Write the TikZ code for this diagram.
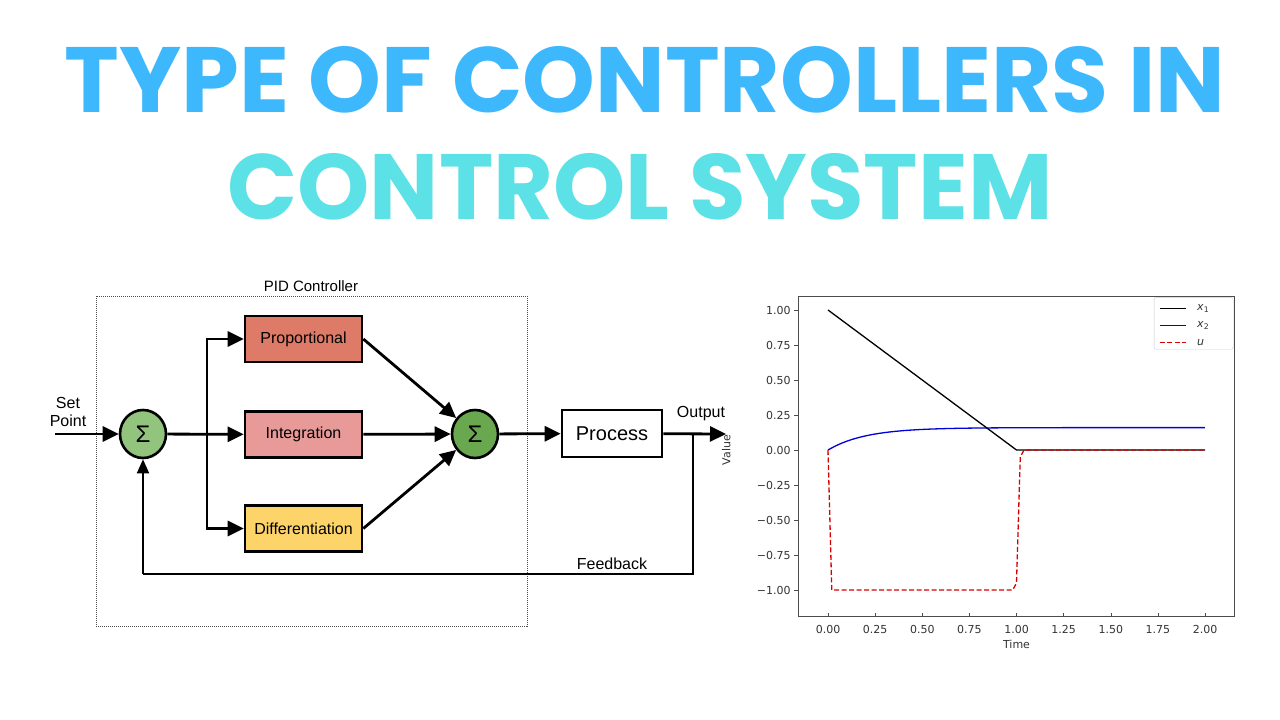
\documentclass[tikz,border=0pt]{standalone}
\usepackage{fontspec}
\setmainfont{Liberation Sans}
\newfontfamily\titlefont{Poppins}
\newfontfamily\plotfont{DejaVu Sans}
\usetikzlibrary{arrows.meta,shapes.geometric}
\definecolor{tA}{HTML}{3DB8FD}
\definecolor{tB}{HTML}{5CE1E6}
\definecolor{propc}{HTML}{DD7B68}
\definecolor{intc}{HTML}{E89A98}
\definecolor{difc}{HTML}{FCD469}
\definecolor{s1c}{HTML}{93C47D}
\definecolor{s2c}{HTML}{6AA84F}
\tikzset{
 blk/.style={draw, line width=2.6pt, minimum width=117pt, minimum height=46pt, inner sep=0pt, font=\fontsize{16}{18}\selectfont},
 sumn/.style={draw, line width=2.6pt, ellipse, minimum width=46pt, minimum height=48pt, inner sep=0pt, font=\fontsize{24}{26}\selectfont},
 arr/.style={line width=2.8pt, -{Triangle[length=16pt,width=15pt]}},
 ln/.style={line width=2.6pt},
 lbl/.style={font=\fontsize{16}{18}\selectfont, inner sep=0pt},
 tick/.style={font=\plotfont\fontsize{11}{12}\selectfont, text=black!80},
}
\begin{document}
\begin{tikzpicture}[x=1pt,y=-1pt]
\useasboundingbox (0,0) rectangle (1280,720);
\fill[white] (0,0) rectangle (1280,720);
% titles
\node[text=tA, font=\titlefont\bfseries] (t1) at (645,80) {\resizebox{1160pt}{66pt}{TYPE OF CONTROLLERS IN}};
\node[text=tB, font=\titlefont\bfseries] (t2) at (640,187) {\resizebox{825pt}{66pt}{CONTROL SYSTEM}};
% diagram
\draw[densely dotted, black!70, line width=1pt] (96,296) rectangle (527,626);
\node[lbl, font=\fontsize{15}{17}\selectfont] (pid) at (311,286) {PID Controller};
\node[sumn, fill=s1c] (s1) at (143,434) {Σ};
\node[sumn, fill=s2c] (s2) at (475,434) {Σ};
\node[blk, fill=propc] (p) at (303.5,339) {Proportional};
\node[blk, fill=intc] (i) at (303.5,434.5) {Integration};
\node[blk, fill=difc] (d) at (303.5,528.5) {Differentiation};
\node[blk, fill=white, minimum width=100pt, minimum height=47pt, font=\fontsize{20}{22}\selectfont] (pr) at (612,433.5) {Process};
\node[lbl, align=center] (sp) at (68,412) {Set\\Point};
\node[lbl] (out) at (701,414) {Output};
\node[lbl] (fb) at (612,564) {Feedback};
\coordinate (in) at (55,434);
\coordinate (sp1) at (207,434);
\coordinate (o1) at (693,434);
\coordinate (o2) at (726,434);
\coordinate (f1) at (693,574);
\coordinate (f2) at (143,574);
\draw[arr] (in) -- (s1);
\draw[arr] (s1) -- (i);
\draw[arr] (sp1) |- (p.west);
\draw[arr] (sp1) |- (d.west);
\draw[arr] (p.east) -- (s2);
\draw[arr] (i) -- (s2);
\draw[arr] (d.east) -- (s2);
\draw[arr] (s2) -- (pr);
\draw[arr] (pr) -- (o2);
\draw[line width=1.8pt] (o1) -- (f1) -- (f2);
\draw[line width=1.8pt, -{Triangle[length=14pt,width=12pt]}] (f2) -- (s1);
% plot
\begin{scope}[shift={(828,450)}, x=188.5pt, y=140pt]
 \draw[black!70, line width=0.8pt] (-0.157,1.1) rectangle (2.157,-1.19);
 \foreach \v/\t in {0/0.00,0.25/0.25,0.5/0.50,0.75/0.75,1/1.00,1.25/1.25,1.5/1.50,1.75/1.75,2/2.00}{
   \draw[black!70] (\v,-1.19) -- ++(0,4pt);
   \node[tick, anchor=north] at (\v,-1.23) {\t};}
 \foreach \v/\t in {1/1.00,0.75/0.75,0.5/0.50,0.25/0.25,0/0.00,-0.25/−0.25,-0.5/−0.50,-0.75/−0.75,-1/−1.00}{
   \draw[black!70] (-0.157,\v) -- ++(-4pt,0);
   \node[tick, anchor=east] at (-0.18,\v) {\t};}
 \node[tick, anchor=north] (tm) at (1,-1.33) {Time};
 \node[tick, rotate=90] (vl) at (-0.54,0) {Value};
 \draw[blue!85!black, line width=1.3pt] plot[domain=0:2, samples=60, smooth] (\x,{0.16*(1-exp(-5*\x))});
 \draw[black, line width=1.3pt] (0,1) -- (1,0) -- (2,0);
 \draw[red!85!black, line width=1.3pt, dash pattern=on 5pt off 2.5pt] (0,0) -- (0.02,-1) -- (0.98,-1) -- (1.0,-0.95) -- (1.02,-0.05) -- (1.04,0) -- (2,0);
 % legend
 \draw[black!20, fill=white, rounded corners=2pt] (1.73,1.09) rectangle (2.15,0.72);
 \draw[black, line width=1.3pt] (1.76,1.01) -- (1.9,1.01);
 \draw[blue!85!black, line width=1.3pt] (1.76,0.89) -- (1.9,0.89);
 \draw[red!85!black, line width=1.3pt, dash pattern=on 5pt off 2.5pt] (1.76,0.77) -- (1.9,0.77);
 \node[tick, anchor=west] at (1.94,1.01) {\textit{x}\textsubscript{1}};
 \node[tick, anchor=west] at (1.94,0.89) {\textit{x}\textsubscript{2}};
 \node[tick, anchor=west] at (1.94,0.77) {\textit{u}};
\end{scope}
\end{tikzpicture}
\end{document}
